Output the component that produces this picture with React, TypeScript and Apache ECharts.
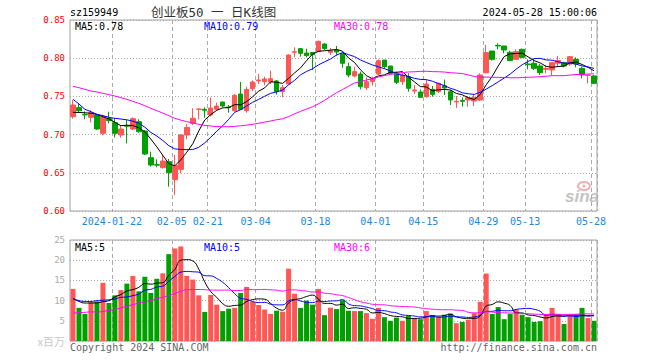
import React, { useEffect, useRef } from "react";
import * as echarts from "echarts";

// ---------- data ----------
const dates = [
  "2024-01-11", "2024-01-12", "2024-01-15", "2024-01-16", "2024-01-17", "2024-01-18", "2024-01-19",
  "2024-01-22", "2024-01-23", "2024-01-24", "2024-01-25", "2024-01-26", "2024-01-29", "2024-01-30",
  "2024-01-31", "2024-02-01", "2024-02-02", "2024-02-05", "2024-02-06", "2024-02-07", "2024-02-08",
  "2024-02-19", "2024-02-20", "2024-02-21", "2024-02-22", "2024-02-23", "2024-02-26", "2024-02-27",
  "2024-02-28", "2024-02-29", "2024-03-01", "2024-03-04", "2024-03-05", "2024-03-06", "2024-03-07",
  "2024-03-08", "2024-03-11", "2024-03-12", "2024-03-13", "2024-03-14", "2024-03-15", "2024-03-18",
  "2024-03-19", "2024-03-20", "2024-03-21", "2024-03-22", "2024-03-25", "2024-03-26", "2024-03-27",
  "2024-03-28", "2024-03-29", "2024-04-01", "2024-04-02", "2024-04-03", "2024-04-08", "2024-04-09",
  "2024-04-10", "2024-04-11", "2024-04-12", "2024-04-15", "2024-04-16", "2024-04-17", "2024-04-18",
  "2024-04-19", "2024-04-22", "2024-04-23", "2024-04-24", "2024-04-25", "2024-04-26", "2024-04-29",
  "2024-04-30", "2024-05-06", "2024-05-07", "2024-05-08", "2024-05-09", "2024-05-10", "2024-05-13",
  "2024-05-14", "2024-05-15", "2024-05-16", "2024-05-17", "2024-05-20", "2024-05-21", "2024-05-22",
  "2024-05-23", "2024-05-24", "2024-05-27", "2024-05-28",
];

const opens = [
  0.7235, 0.7353, 0.7262, 0.7226, 0.7257, 0.7017, 0.7209, 0.7156, 0.6995, 0.7117,
  0.7073, 0.7169, 0.7047, 0.6698, 0.6607, 0.6567, 0.6646, 0.641, 0.6545, 0.6995,
  0.7147, 0.733, 0.7331, 0.7257, 0.7331, 0.7427, 0.7361, 0.7313, 0.7531, 0.7313,
  0.7601, 0.7702, 0.7693, 0.7689, 0.7702, 0.7562, 0.7662, 0.8077, 0.8125, 0.8068,
  0.8075, 0.809, 0.8186, 0.8077, 0.8107, 0.8064, 0.7889, 0.7767, 0.7793, 0.7614,
  0.7693, 0.7793, 0.7976, 0.7898, 0.7802, 0.7693, 0.7758, 0.7571, 0.7558, 0.7497,
  0.7592, 0.7562, 0.764, 0.7562, 0.7427, 0.7449, 0.7453, 0.744, 0.7453, 0.7811,
  0.8094, 0.8168, 0.816, 0.8077, 0.7985, 0.8116, 0.7924, 0.7933, 0.7898, 0.7854,
  0.7846, 0.7933, 0.7942, 0.7924, 0.7985, 0.7867, 0.7775, 0.7767,
];
const closes = [
  0.7387, 0.7313, 0.7258, 0.7287, 0.7073, 0.7235, 0.7182, 0.7017, 0.7073, 0.711,
  0.7209, 0.7038, 0.6746, 0.6602, 0.66, 0.6654, 0.6502, 0.6598, 0.6995, 0.7095,
  0.7213, 0.7335, 0.7318, 0.7348, 0.7374, 0.7374, 0.7353, 0.7514, 0.7331, 0.7592,
  0.7689, 0.7715, 0.7728, 0.7732, 0.7562, 0.7614, 0.8042, 0.8086, 0.8064, 0.8033,
  0.8045, 0.8221, 0.8125, 0.8103, 0.8081, 0.7933, 0.778, 0.7824, 0.7627, 0.7693,
  0.7732, 0.7968, 0.7889, 0.7802, 0.7684, 0.778, 0.7606, 0.7584, 0.7488, 0.7662,
  0.7527, 0.7671, 0.761, 0.7453, 0.7435, 0.7435, 0.7483, 0.7488, 0.778, 0.8073,
  0.7985, 0.816, 0.8107, 0.7968, 0.8086, 0.8011, 0.7915, 0.7867, 0.7811, 0.7867,
  0.7942, 0.7968, 0.7898, 0.802, 0.7924, 0.778, 0.778, 0.7671,
];
const lows = [
  0.7209, 0.7287, 0.72, 0.716, 0.706, 0.699, 0.7147, 0.6964, 0.696, 0.6886,
  0.706, 0.7025, 0.6733, 0.658, 0.6572, 0.6554, 0.6318, 0.621, 0.6493, 0.6938,
  0.7126, 0.72, 0.7222, 0.7235, 0.7313, 0.7357, 0.7287, 0.73, 0.7322, 0.7287,
  0.7566, 0.7662, 0.7645, 0.7662, 0.7523, 0.7488, 0.7649, 0.8011, 0.802, 0.8011,
  0.7846, 0.8081, 0.8107, 0.8042, 0.8033, 0.7876, 0.775, 0.775, 0.7592, 0.7584,
  0.764, 0.778, 0.7867, 0.7789, 0.7662, 0.7649, 0.7562, 0.7531, 0.7483, 0.7483,
  0.7497, 0.754, 0.7518, 0.7387, 0.7348, 0.7366, 0.7366, 0.7374, 0.744, 0.7802,
  0.7968, 0.8116, 0.8064, 0.7968, 0.7976, 0.7998, 0.7854, 0.7846, 0.778, 0.7802,
  0.778, 0.7898, 0.788, 0.7898, 0.788, 0.7736, 0.767, 0.7662,
];
const highs = [
  0.7453, 0.7409, 0.7305, 0.7322, 0.727, 0.726, 0.73, 0.7213, 0.7113, 0.719,
  0.7226, 0.72, 0.706, 0.6777, 0.6676, 0.6733, 0.6681, 0.6733, 0.7004, 0.7139,
  0.7344, 0.734, 0.7357, 0.7488, 0.7418, 0.7427, 0.7387, 0.7531, 0.7689, 0.7627,
  0.771, 0.7793, 0.7758, 0.7837, 0.7715, 0.7649, 0.8051, 0.8142, 0.8133, 0.8125,
  0.808, 0.823, 0.8195, 0.8133, 0.816, 0.8073, 0.7942, 0.7889, 0.7824, 0.775,
  0.7758, 0.7985, 0.7976, 0.7898, 0.7824, 0.7811, 0.7802, 0.7649, 0.7592, 0.772,
  0.7636, 0.768, 0.772, 0.7584, 0.7505, 0.7488, 0.7505, 0.7518, 0.7802, 0.8173,
  0.8094, 0.8195, 0.816, 0.8099, 0.8116, 0.8125, 0.7985, 0.7985, 0.7924, 0.7907,
  0.7942, 0.8029, 0.7955, 0.8029, 0.8011, 0.7889, 0.7785, 0.778,
];
// volume, millions
const volumes = [
  12.9, 8.2, 6.7, 9.6, 9.8, 14.4, 9.4, 11.3, 12.6, 14.2,
  16.1, 12.3, 15.9, 11.9, 15.4, 16.75, 21.5, 22.9, 23.4, 16.1,
  15.2, 11.3, 7.2, 11.4, 9.0, 7.4, 8.0, 8.2, 11.9, 13.4,
  9.7, 8.9, 7.8, 6.7, 7.5, 7.25, 17.9, 11.7, 8.2, 10.0,
  9.0, 12.9, 6.4, 8.25, 7.9, 10.1, 7.5, 7.4, 7.4, 6.9,
  5.5, 8.2, 5.9, 5.0, 5.8, 5.0, 6.3, 5.7, 5.4, 7.4,
  6.4, 5.9, 6.5, 6.8, 4.4, 4.7, 5.2, 6.9, 9.7, 16.7,
  6.7, 8.4, 5.4, 6.7, 7.75, 6.5, 5.9, 4.7, 4.9, 6.5,
  8.2, 6.7, 4.2, 6.5, 6.5, 8.2, 5.7, 5.0,
];

// moving-average values before enough in-window history exists
const ma5Head = [0.7291, 0.729, 0.7285, 0.728];
const ma10Head = [0.7462, 0.74, 0.7331, 0.73, 0.7265, 0.7248, 0.7226, 0.7213, 0.7204];
const ma30Head = [
  0.7632, 0.7614, 0.7592, 0.757, 0.7558, 0.754, 0.7523, 0.7505, 0.7483, 0.7462,
  0.7435, 0.7409, 0.7378, 0.7344, 0.7313, 0.7282, 0.7248, 0.7213, 0.719, 0.717,
  0.7152, 0.7135, 0.712, 0.7112, 0.7105, 0.7103, 0.7103, 0.7108, 0.7115,
];
const vma5Head = [10.5, 9.8, 9.4, 9.4];
const vma10Head = [10.5, 10.0, 9.8, 9.8, 10.0, 10.1, 10.2, 10.4, 10.8];
const vma30Head = [
  6.9, 7.0, 7.1, 7.2, 7.2, 7.3, 7.6, 7.8, 8.2, 8.6,
  9.0, 9.4, 9.7, 10.0, 10.5, 10.8, 11.3, 11.75, 12.3, 12.7,
  12.75, 12.75, 12.7, 12.6, 12.6, 12.6, 12.6, 12.5, 12.5,
];

const labelDates = ["2024-01-22", "2024-02-05", "2024-02-21", "2024-03-04", "2024-03-18", "2024-04-01", "2024-04-15", "2024-04-29", "2024-05-13", "2024-05-28"];
const priceGridDates = ["2024-01-22", "2024-02-05", "2024-02-21", "2024-03-04", "2024-03-18", "2024-04-01", "2024-04-15", "2024-04-29", "2024-05-13", "2024-05-28"];
const volGridDates = ["2024-01-22", "2024-02-05", "2024-03-04", "2024-03-18", "2024-04-01", "2024-04-15", "2024-04-29", "2024-05-13", "2024-05-28"];

const titleCode = "sz159949";
const titleName = "创业板50 一 日K线图";
const stamp = "2024-05-28 15:00:06";
const priceLegend = ["MA5:0.78", "MA10:0.79", "MA30:0.78"];
const volLegend = ["MA5:5", "MA10:5", "MA30:6"];

// ---------- helpers ----------
function movingAvg(vals: number[], n: number, head: number[]) {
  return vals.map((_, i) => {
    if (i < n - 1) return head[i];
    let s = 0;
    for (let k = i - n + 1; k <= i; k++) s += vals[k];
    return +(s / n).toFixed(5);
  });
}

const UP = "#ff5656";
const DOWN = "#00a000";
const MONO = '"DejaVu Sans Mono", "Liberation Mono", monospace';
const MA_COLORS = ["#000000", "#0000ff", "#ff00ff"];

export default function App() {
  const ref = useRef<HTMLDivElement>(null);
  useEffect(() => {
    const chart = echarts.init(ref.current!, null, { renderer: "svg" });
    const ma5 = movingAvg(closes, 5, ma5Head);
    const ma10 = movingAvg(closes, 10, ma10Head);
    const ma30 = movingAvg(closes, 30, ma30Head);
    const vma5 = movingAvg(volumes, 5, vma5Head);
    const vma10 = movingAvg(volumes, 10, vma10Head);
    const vma30 = movingAvg(volumes, 30, vma30Head);

    const labelIdx = new Set(labelDates.map((d) => dates.indexOf(d)));
    const pGrid = new Set(priceGridDates.map((d) => dates.indexOf(d)));
    const vGrid = new Set(volGridDates.map((d) => dates.indexOf(d)));

    const lineSeries = (name: string, data: number[], color: string, xi: number, smooth: boolean) => ({
      name,
      type: "line",
      xAxisIndex: xi,
      yAxisIndex: xi,
      data,
      showSymbol: false,
      symbol: "none",
      smooth,
      lineStyle: { width: 1, color },
      itemStyle: { color },
      silent: true,
      z: 5,
    });

    const legendText = (texts: string[], y: number) =>
      texts.map((t, i) => ({
        type: "text",
        x: [75, 204, 334][i],
        y,
        style: {
          text: t,
          fill: MA_COLORS[i],
          font: `10px ${MONO}`,
          textAlign: "left",
          textVerticalAlign: "middle",
        },
        z: 10,
      }));

    const option: any = {
      animation: false,
      backgroundColor: "#ffffff",
      grid: [
        { left: 70, top: 20, width: 527, height: 191, show: true, borderColor: "#a0a0a0", borderWidth: 1 },
        { left: 70, top: 240, width: 527, height: 101, show: true, borderColor: "#a0a0a0", borderWidth: 1 },
      ],
      xAxis: [
        {
          type: "category",
          gridIndex: 0,
          data: dates,
          boundaryGap: true,
          axisLine: { show: false },
          axisTick: { show: false },
          axisLabel: {
            interval: (i: number) => labelIdx.has(i),
            formatter: (v: string) => (v === labelDates[0] ? v : v.slice(5)),
            color: "#1e88e0",
            fontFamily: MONO,
            fontSize: 10,
            margin: 5,
            padding: [0, 6, 0, 0],
          },
          splitLine: {
            show: true,
            interval: (i: number) => pGrid.has(i),
            lineStyle: { color: "#aaaaaa", type: [4, 3], width: 1 },
          },
        },
        {
          type: "category",
          gridIndex: 1,
          data: dates,
          boundaryGap: true,
          axisLine: { show: false },
          axisTick: { show: false },
          axisLabel: { show: false },
          splitLine: {
            show: true,
            interval: (i: number) => vGrid.has(i),
            lineStyle: { color: "#aaaaaa", type: [4, 3], width: 1 },
          },
        },
      ],
      yAxis: [
        {
          type: "value",
          gridIndex: 0,
          min: 0.6,
          max: 0.85,
          interval: 0.05,
          axisLine: { show: false },
          axisTick: { show: false },
          axisLabel: {
            formatter: (v: number) => v.toFixed(2),
            color: "#ff0000",
            fontFamily: MONO,
            fontSize: 9,
            margin: 5,
          },
          splitLine: { show: true, lineStyle: { color: "#aaaaaa", type: [1, 2], width: 1 } },
        },
        {
          type: "value",
          gridIndex: 1,
          min: 0,
          max: 25,
          interval: 5,
          axisLine: { show: false },
          axisTick: { show: false },
          axisLabel: {
            formatter: (v: number) => (v === 0 ? "" : String(v)),
            color: "#aaaaaa",
            fontFamily: MONO,
            fontSize: 9,
            margin: 5,
          },
          splitLine: { show: true, lineStyle: { color: "#aaaaaa", type: [1, 2], width: 1 } },
        },
      ],
      series: [
        {
          name: "K",
          type: "candlestick",
          xAxisIndex: 0,
          yAxisIndex: 0,
          barWidth: 5,
          data: dates.map((_, i) => [opens[i], closes[i], lows[i], highs[i]]),
          itemStyle: {
            color: UP,
            color0: DOWN,
            borderColor: UP,
            borderColor0: DOWN,
            borderWidth: 1,
          },
          silent: true,
          z: 3,
        },
        lineSeries("MA5", ma5, MA_COLORS[0], 0, false),
        lineSeries("MA10", ma10, MA_COLORS[1], 0, false),
        lineSeries("MA30", ma30, MA_COLORS[2], 0, false),
        {
          name: "VOL",
          type: "bar",
          xAxisIndex: 1,
          yAxisIndex: 1,
          barWidth: 5,
          data: volumes.map((v, i) => ({
            value: v,
            itemStyle: { color: closes[i] >= opens[i] ? UP : DOWN },
          })),
          silent: true,
          z: 3,
        },
        lineSeries("VMA5", vma5, MA_COLORS[0], 1, true),
        lineSeries("VMA10", vma10, MA_COLORS[1], 1, true),
        lineSeries("VMA30", vma30, MA_COLORS[2], 1, true),
      ],
      graphic: [
        {
          type: "text",
          x: 70,
          y: 12,
          style: { text: titleCode, fill: "#000", font: `10px ${MONO}`, textAlign: "left", textVerticalAlign: "middle" },
        },
        {
          type: "text",
          x: 151,
          y: 12,
          style: {
            text: titleName,
            fill: "#333",
            font: `12.5px "DejaVu Sans Mono", "Noto Sans CJK SC"`,
            textAlign: "left",
            textVerticalAlign: "middle",
          },
        },
        {
          type: "text",
          x: 597,
          y: 12,
          style: { text: stamp, fill: "#000", font: `10px ${MONO}`, textAlign: "right", textVerticalAlign: "middle" },
        },
        ...legendText(priceLegend, 26),
        ...legendText(volLegend, 247),
        {
          type: "text",
          x: 70,
          y: 347,
          style: { text: "Copyright 2024 SINA.COM", fill: "#666", font: `10px ${MONO}`, textAlign: "left", textVerticalAlign: "middle" },
        },
        {
          type: "text",
          x: 597,
          y: 347,
          style: { text: "http://finance.sina.com.cn", fill: "#666", font: `10px ${MONO}`, textAlign: "right", textVerticalAlign: "middle" },
        },
        {
          type: "text",
          x: 65,
          y: 341,
          style: { text: "x百万", fill: "#c8c8c8", font: '11px "Noto Sans CJK SC"', textAlign: "right", textVerticalAlign: "middle" },
        },
        {
          type: "group",
          x: 565,
          y: 184,
          children: [
            { type: "ellipse", shape: { cx: 19, cy: 2, rx: 6, ry: 4 }, style: { fill: "none", stroke: "#f2b0b0", lineWidth: 2 } },
            { type: "circle", shape: { cx: 19, cy: 2, r: 1.5 }, style: { fill: "#f2b0b0" } },
            {
              type: "text",
              x: 0,
              y: 12,
              style: { text: "sina", fill: "#c4c4c4", font: 'italic bold 17px "Liberation Sans"', textAlign: "left", textVerticalAlign: "middle" },
            },
          ],
        },
      ],
    };
    chart.setOption(option);
    return () => chart.dispose();
  }, []);
  return <div ref={ref} style={{ position: "absolute", left: 0, top: 0, width: 660, height: 360 }} />;
}
